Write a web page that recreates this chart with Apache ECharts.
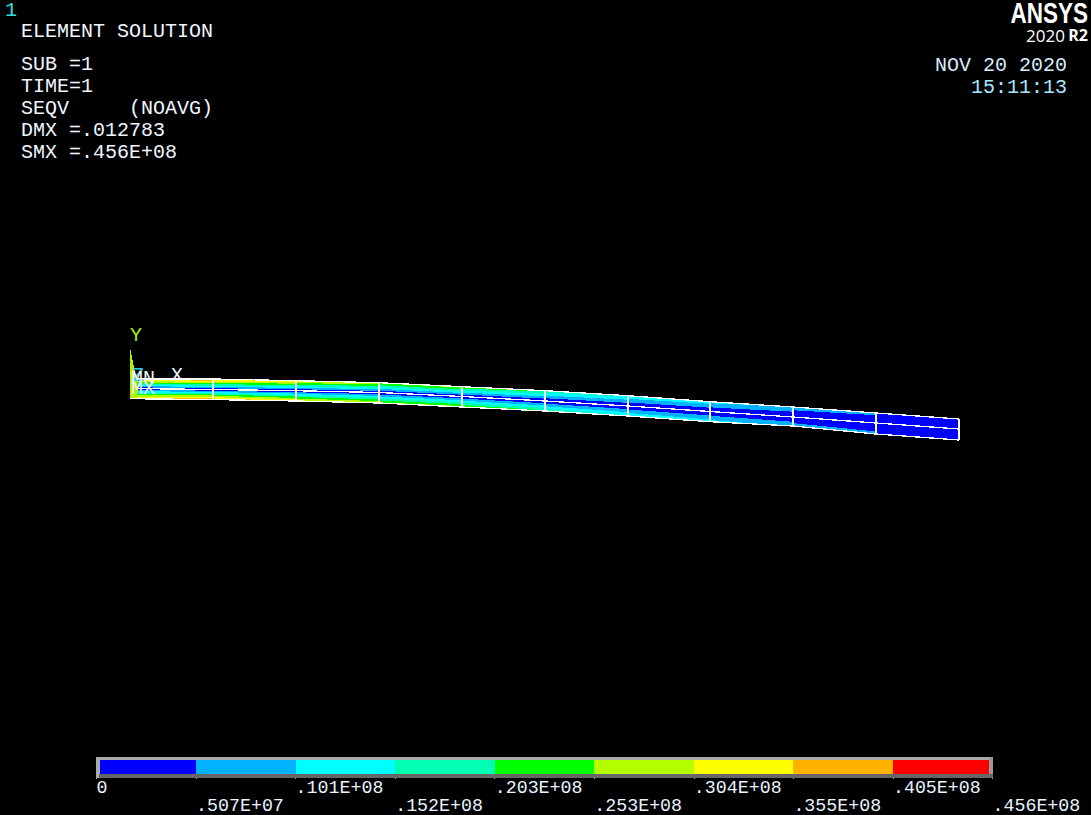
<!DOCTYPE html>
<html>
<head>
<meta charset="utf-8">
<title>ANSYS element solution</title>
<script src="https://cdn.jsdelivr.net/npm/echarts@6/dist/echarts.min.js"></script>
<style>
  html, body { margin: 0; background: #000; }
  #main { width: 1091px; height: 815px; }
  /* the ANSYS window is not antialiased */
  #main svg path { shape-rendering: crispEdges; }
</style>
</head>
<body>
<div id="main"></div>
<script>
// beam nodes
const nodeX = [131, 213, 296, 379, 462, 545, 628, 710, 793, 876, 959];
const topY = [379, 379, 380.7, 382.7, 386.7, 390.7, 395.7, 401.7, 407, 413, 419];
const centerY = [388.5, 389.5, 390.7, 392.5, 396.5, 401, 406, 411.5, 417, 423, 429];
const bottomY = [398.7, 399.6, 401, 403, 407, 411, 416, 421.7, 426, 434, 440];

// outer fibre SEQV of each element at its left and right end
const stressStart = [38e6, 40e6, 33e6, 27e6, 25e6, 19e6, 14.5e6, 12e6, 7.5e6, 4.5e6];
const stressEnd = [43e6, 36e6, 31e6, 28e6, 22e6, 16.5e6, 13e6, 9.5e6, 6.5e6, 4e6];

const contourLevels = [0, 5.07e6, 10.1e6, 15.2e6, 20.3e6, 25.3e6, 30.4e6, 35.5e6, 40.5e6, 45.6e6];
const bandColors = ['#0000ff', '#00b2ff', '#00ffff', '#00ffb2', '#00ff00', '#b2ff00', '#ffff00', '#ffb200', '#ff0000'];
const tickLabels = ['0', '.507E+07', '.101E+08', '.152E+08', '.203E+08', '.253E+08', '.304E+08', '.355E+08', '.405E+08', '.456E+08'];

const infoLines = ['SUB =1', 'TIME=1', 'SEQV     (NOAVG)', 'DMX =.012783', 'SMX =.456E+08'];
const triadX = [130, 138, 137, 130];
const triadY = [347, 388, 398, 398];

const mono = '"Liberation Mono", monospace';
const SLICES = 14;

const chart = echarts.init(document.getElementById('main'), null, { renderer: 'svg' });

const lerp = (a, b, t) => a + (b - a) * t;

// one polygon per contour band, per half of the section
function renderElement(params, api) {
  const e = api.value(0);
  const children = [];
  bandColors.forEach((color, k) => {
    [topY, bottomY].forEach(edge => {
      const outer = [];
      const inner = [];
      for (let i = 0; i <= SLICES; i++) {
        const t = i / SLICES;
        const x = lerp(nodeX[e], nodeX[e + 1], t);
        const c = lerp(centerY[e], centerY[e + 1], t);
        const o = lerp(edge[e], edge[e + 1], t);
        const s = lerp(stressStart[e], stressEnd[e], t);
        const lo = Math.min(contourLevels[k] / s, 1);
        const hi = Math.min(contourLevels[k + 1] / s, 1);
        outer.push(api.coord([x, lerp(c, o, hi)]));
        inner.unshift(api.coord([x, lerp(c, o, lo)]));
      }
      children.push({
        type: 'polygon',
        shape: { points: outer.concat(inner) },
        style: { fill: color, stroke: null }
      });
    });
  });
  return { type: 'group', children };
}

function renderLegendBand(params, api) {
  const i = api.value(0);
  const a = api.coord([i, 1]);
  const b = api.coord([i + 1, 0]);
  return {
    type: 'rect',
    shape: { x: a[0], y: a[1], width: b[0] - a[0], height: b[1] - a[1] },
    style: { fill: bandColors[i] }
  };
}

const meshLine = (name, values) => ({
  name,
  type: 'line',
  data: nodeX.map((x, i) => [x, values[i]]),
  symbol: 'none',
  silent: true,
  z: 5,
  lineStyle: { color: '#fff', width: 1.3 }
});

// element boundaries, nulls break the line between them
const dividers = [];
nodeX.forEach((x, i) => {
  dividers.push([x, topY[i]], [x, bottomY[i]], [null, null]);
});

const text = (x, y, str, fill, size, extra) => ({
  type: 'text',
  x,
  y,
  z: 20,
  style: Object.assign({
    text: str,
    fill,
    font: (size || 20) + 'px ' + mono,
    textVerticalAlign: 'middle'
  }, extra)
});

const option = {
  backgroundColor: '#000',
  animation: false,
  grid: [
    { left: 0, top: 0, width: 1091, height: 815 },
    { left: 96.5, top: 757, width: 896, height: 21 }
  ],
  xAxis: [
    { gridIndex: 0, type: 'value', min: 0, max: 1091, show: false },
    {
      gridIndex: 1,
      type: 'value',
      min: 0,
      max: 9,
      interval: 1,
      splitLine: { show: false },
      axisLine: { show: false },
      axisTick: { show: true, length: 3, lineStyle: { color: '#aaa', width: 1 } },
      axisLabel: {
        show: true,
        showMinLabel: true,
        showMaxLabel: true,
        hideOverlap: false,
        align: 'left',
        verticalAlign: 'top',
        margin: 3,
        color: '#e8f4ff',
        fontFamily: mono,
        fontSize: 18.3,
        lineHeight: 18,
        formatter: v => (v % 2 ? '\n' : '') + tickLabels[v]
      }
    }
  ],
  yAxis: [
    { gridIndex: 0, type: 'value', min: 0, max: 815, inverse: true, show: false },
    { gridIndex: 1, type: 'value', min: 0, max: 1, show: false }
  ],
  series: [
    {
      name: 'SEQV',
      type: 'custom',
      renderItem: renderElement,
      data: stressStart.map((s, i) => [i]),
      clip: false,
      silent: true,
      z: 3
    },
    meshLine('top', topY),
    meshLine('center', centerY),
    meshLine('bottom', bottomY),
    {
      name: 'elements',
      type: 'line',
      data: dividers,
      symbol: 'none',
      connectNulls: false,
      silent: true,
      z: 5,
      lineStyle: { color: '#fff', width: 2 }
    },
    {
      name: 'triad',
      type: 'custom',
      renderItem: (params, api) => ({
        type: 'polygon',
        shape: { points: triadX.map((x, i) => api.coord([x, triadY[i]])) },
        style: { fill: '#b2f000' }
      }),
      data: [[0]],
      silent: true,
      z: 6
    },
    {
      name: 'legend',
      type: 'custom',
      xAxisIndex: 1,
      yAxisIndex: 1,
      renderItem: renderLegendBand,
      data: bandColors.map((c, i) => [i]),
      silent: true,
      z: 3
    }
  ],
  graphic: [
    text(5, 10, '1', '#30e0e0'),
    text(21, 31, 'ELEMENT SOLUTION', '#f0f6ff')
  ].concat(
    infoLines.map((line, i) => text(21, 64 + i * 22, line, '#f0f6ff')),
    [
      text(935, 65, 'NOV 20 2020', '#d8ecff'),
      text(971, 87, '15:11:13', '#a8e8ff'),
      text(130, 335, 'Y', '#b2f000'),
      text(171, 375, 'X', '#f0f6ff'),
      text(132, 375, 'Z', '#30c8e8'),
      text(131, 378, 'MN', '#f0f6ff'),
      text(131, 388, 'MX', '#f0f6ff'),
      {
        type: 'text',
        x: 1088,
        y: 13,
        z: 20,
        scaleX: 0.75,
        style: {
          text: 'ANSYS',
          fill: '#fff',
          font: 'bold 30px "Liberation Sans", sans-serif',
          textAlign: 'right',
          textVerticalAlign: 'middle'
        }
      },
      {
        type: 'text',
        x: 1065,
        y: 35,
        z: 20,
        style: {
          text: '2020',
          fill: '#fff',
          font: '17px "Open Sans", sans-serif',
          textAlign: 'right',
          textVerticalAlign: 'middle'
        }
      },
      {
        type: 'text',
        x: 1088,
        y: 35,
        z: 20,
        style: {
          text: 'R2',
          fill: '#fff',
          font: 'bold 16px "Open Sans", sans-serif',
          textAlign: 'right',
          textVerticalAlign: 'middle'
        }
      },
      // colorbar frame
      { type: 'rect', z: 15, shape: { x: 96, y: 757, width: 897, height: 3 }, style: { fill: '#aaa' } },
      { type: 'rect', z: 15, shape: { x: 96, y: 757, width: 4, height: 21 }, style: { fill: '#aaa' } },
      { type: 'rect', z: 15, shape: { x: 989, y: 757, width: 4, height: 21 }, style: { fill: '#999' } },
      { type: 'rect', z: 16, shape: { x: 99, y: 774, width: 894, height: 4 }, style: { fill: '#666' } }
    ]
  )
};

chart.setOption(option);
</script>
</body>
</html>
